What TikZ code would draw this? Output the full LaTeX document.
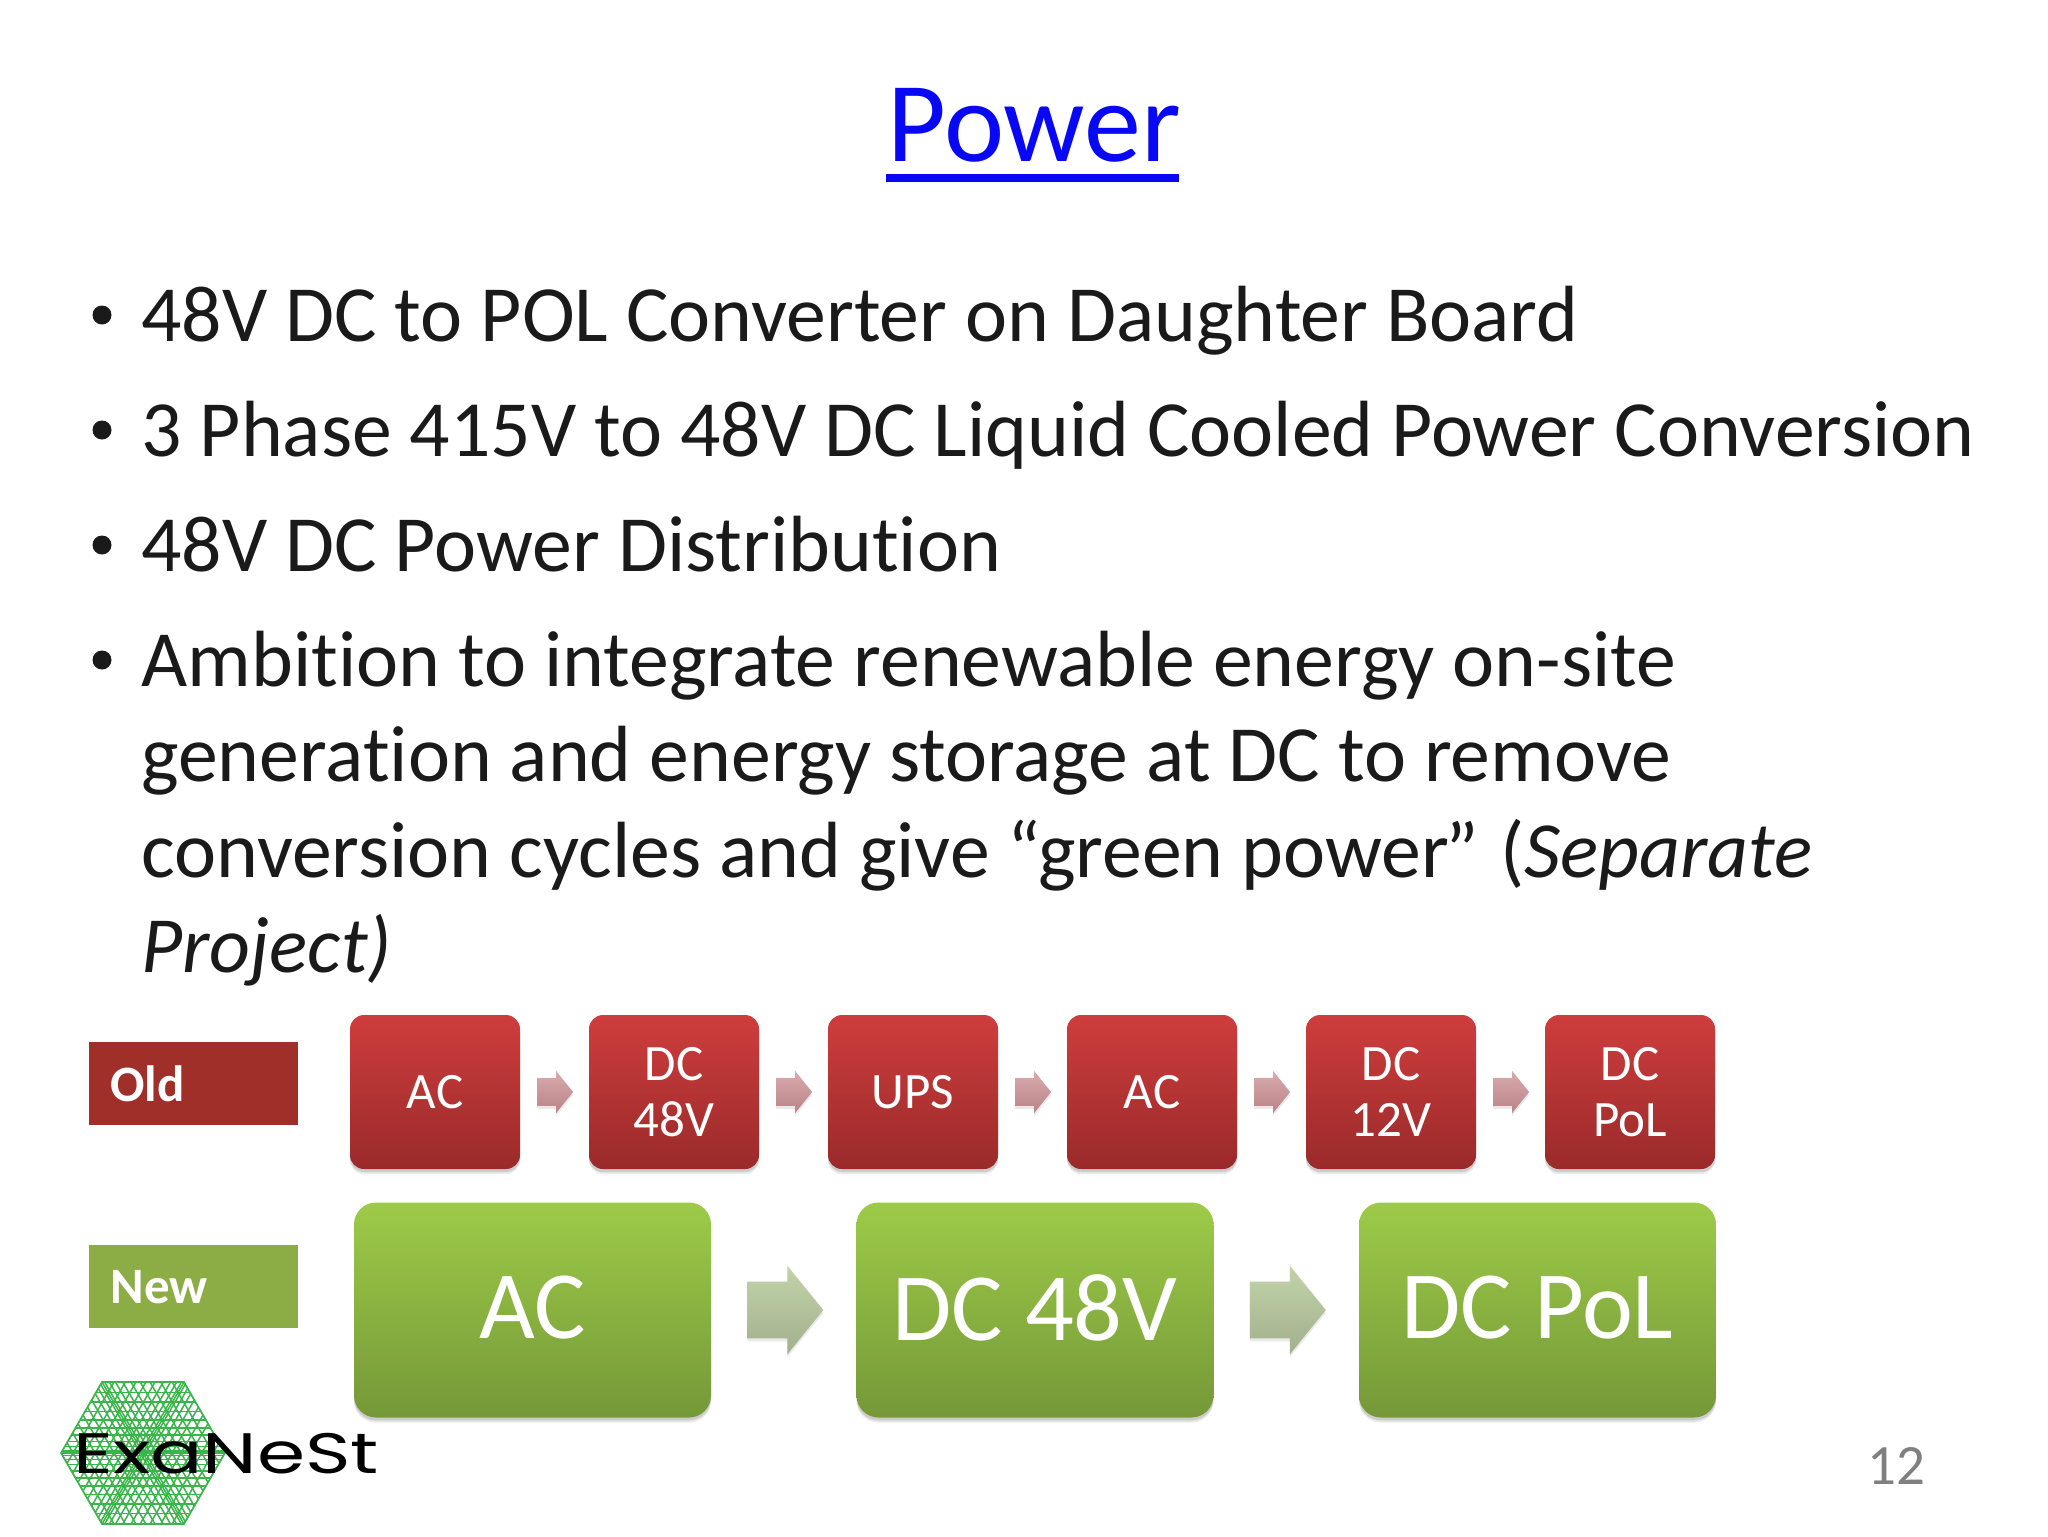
\documentclass[tikz,border=0pt]{standalone}
\usepackage{fontspec}
\setmainfont[Ligatures=NoCommon]{Carlito}
\newfontfamily\logofont{Poppins}
\usetikzlibrary{shapes.arrows,shadows,calc}
\newcommand{\fs}[1]{\fontsize{#1}{#1}\selectfont}
\definecolor{redtop}{HTML}{CF3D3D}
\definecolor{redbot}{HTML}{9A2A2A}
\definecolor{greentop}{HTML}{9DCB48}
\definecolor{greenbot}{HTML}{759838}
\definecolor{oldtag}{HTML}{A02F2A}
\definecolor{newtag}{HTML}{8CAD45}
\definecolor{titleblue}{HTML}{0808F5}
\definecolor{bodytext}{HTML}{1A1A1A}
\definecolor{logogreen}{HTML}{39B54A}
\definecolor{smalltop}{HTML}{D9AAAD}
\definecolor{smallbot}{HTML}{B98488}
\definecolor{bigtop}{HTML}{C2D3A8}
\definecolor{bigbot}{HTML}{A2B08E}
\tikzset{
  softshadow/.style={
    drop shadow={shadow xshift=0pt,shadow yshift=-2.5pt,opacity=.12,fill=black!70},
    drop shadow={shadow xshift=0pt,shadow yshift=-1.5pt,opacity=.18,fill=black!70}},
  arrowshadow/.style={
    drop shadow={shadow xshift=0pt,shadow yshift=-1.5pt,opacity=.12,fill=black!70}},
  redbox/.style={rectangle,rounded corners=7pt,minimum width=85pt,minimum height=77pt,
    inner sep=0pt,top color=redtop,bottom color=redbot,text=white,align=center,
    font=\fs{25.5},softshadow},
  greenbox/.style={rectangle,rounded corners=11pt,minimum width=178.5pt,minimum height=107.5pt,
    inner sep=0pt,top color=greentop,bottom color=greenbot,text=white,align=center,
    font=\fs{48.2},text depth=2.6pt,softshadow},
  tagbox/.style={rectangle,minimum height=41.5pt,inner ysep=0pt,inner xsep=10.5pt,text width=83.5pt,
    text=white,font=\fs{25.5}\bfseries,align=left,anchor=north west},
  smallarrow/.style={single arrow,draw=none,inner xsep=0pt,inner ysep=6.75pt,minimum height=18pt,
    single arrow head extend=3.5pt,single arrow tip angle=102,xshift=-2.5pt,
    top color=smalltop,bottom color=smallbot,arrowshadow},
  bigarrow/.style={single arrow,draw=none,inner xsep=0pt,inner ysep=14pt,minimum height=38pt,
    single arrow head extend=8pt,single arrow tip angle=102,xshift=-5pt,
    top color=bigtop,bottom color=bigbot,arrowshadow},
  bodyline/.style={anchor=base west,inner sep=0pt,text=bodytext,font=\fs{39.85}},
  bullet/.style={circle,fill=bodytext,inner sep=0pt,minimum size=9.5pt}
}
\begin{document}
\begin{tikzpicture}[x=.5pt,y=-.5pt]
\useasboundingbox (0,0) rectangle (2048,1536);
\fill[white] (0,0) rectangle (2048,1536);
% title
\node[anchor=base,inner sep=0pt,text=titleblue,font=\fs{57}] (title) at (1034,161) {Power};
\fill[titleblue] (886,174) rectangle (1179,182);
% bullets
\node[bullet] (b1) at (102,315) {};
\node[bullet] (b2) at (102,430) {};
\node[bullet] (b3) at (102,545) {};
\node[bullet] (b4) at (102,660) {};
\node[bodyline] (l1) at (141,341) {48V DC to POL Converter on Daughter Board};
\node[bodyline] (l2) at (141,456) {3 Phase 415V to 48V DC Liquid Cooled Power Conversion};
\node[bodyline] (l3) at (141,571) {48V DC Power Distribution};
\node[bodyline] (l4) at (141,686) {Ambition to integrate renewable energy on-site};
\node[bodyline] (l5) at (141,781) {generation and energy storage at DC to remove};
\node[bodyline] (l6) at (141,877) {conversion cycles and give “green power\kern-1.5pt”\kern1.5pt{} (\textit{Separate}};
\node[bodyline] (l7) at (141,972) {\textit{Project)}};
% tags
\node[tagbox,fill=oldtag] (old) at (89,1042) {Old};
\node[tagbox,fill=newtag] (new) at (89,1245) {New};
% red row
\node[redbox] (r1) at (435,1092) {AC};
\node[redbox] (r2) at (674,1092) {DC\\[2.5pt]48V};
\node[redbox] (r3) at (913,1092) {UPS};
\node[redbox] (r4) at (1152,1092) {AC};
\node[redbox] (r5) at (1391,1092) {DC\\[2.5pt]12V};
\node[redbox] (r6) at (1630,1092) {DC\\[2.5pt]PoL};
\foreach \a/\b in {r1/r2,r2/r3,r3/r4,r4/r5,r5/r6}
  \node[smallarrow] at ($(\a)!.5!(\b)$) {};
% green row
\node[greenbox] (g1) at (532.5,1310) {AC};
\node[greenbox] (g2) at (1035,1310) {DC 48V};
\node[greenbox] (g3) at (1537.5,1310) {DC PoL};
\foreach \a/\b in {g1/g2,g2/g3}
  \node[bigarrow] at ($(\a)!.5!(\b)$) {};
% logo
\begin{scope}[shift={(143,1453)}]
  \begin{scope}
    \clip (-82,0)--(-41,-71)--(41,-71)--(82,0)--(41,71)--(-41,71)--cycle;
    \foreach \a in {0,60,120}
      \foreach \k in {-10,...,10} {
        \pgfmathsetmacro{\t}{71*(\k<0?-1:1)*pow(abs(\k)/10,1.5)}
        \draw[rotate=\a,logogreen,line width=.75pt] (-100,\t) -- (100,\t);
      }
  \end{scope}
  \draw[logogreen,line width=.8pt] (-82,0)--(-41,-71)--(41,-71)--(82,0)--(41,71)--(-41,71)--cycle;
\end{scope}
\node[anchor=base west,inner sep=0pt,xscale=1.36,font=\logofont\fs{28.5},text=black] (logo) at (73,1473) {ExaNeSt};
% page number
\node[anchor=base,inner sep=0pt,text=black!50,font=\fs{28.5}] (page) at (1896,1484) {12};
\end{tikzpicture}
\end{document}
